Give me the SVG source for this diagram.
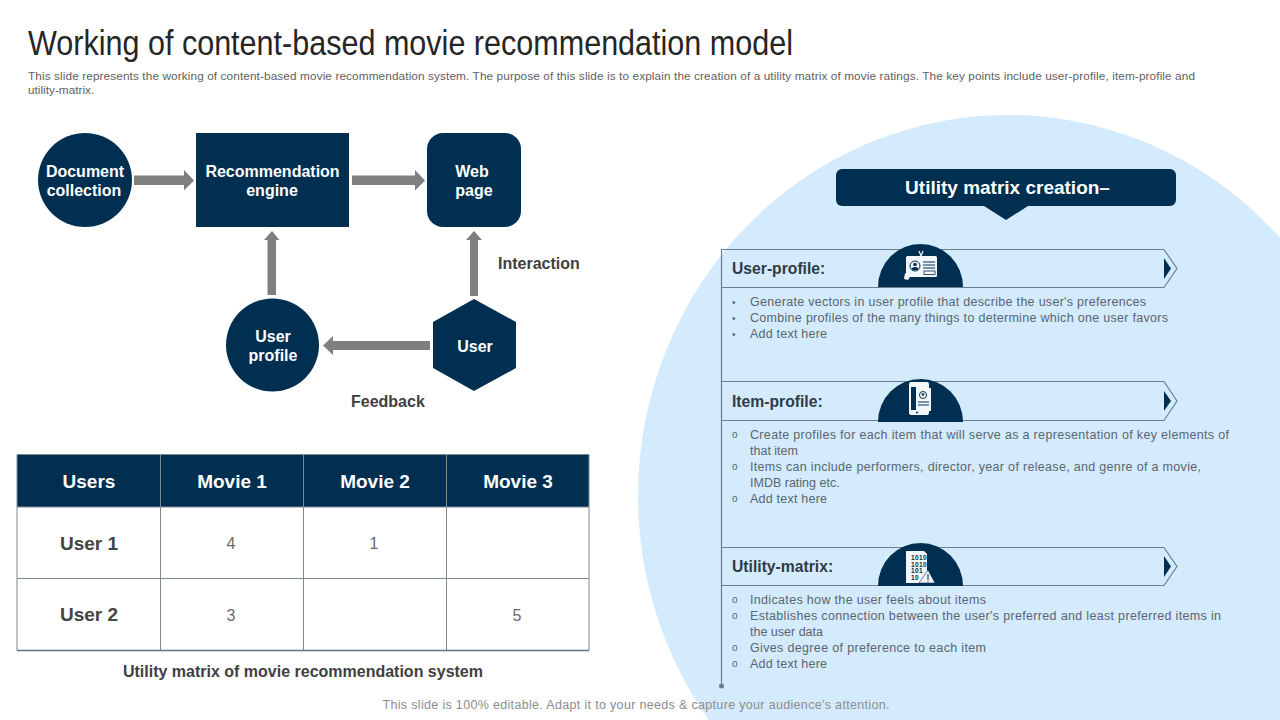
<svg xmlns="http://www.w3.org/2000/svg" width="1280" height="720" viewBox="0 0 1280 720">
<style>
text{font-family:"Liberation Sans",Arial,sans-serif}
.n{fill:#002f52}
.w{fill:#fff;font-weight:bold;font-size:16px;text-anchor:middle}
.lab{fill:#404040;font-weight:bold;font-size:16px}
.th{fill:#fff;font-weight:bold;font-size:19px;text-anchor:middle}
.rh{fill:#454545;font-weight:bold;font-size:19px;text-anchor:middle}
.num{fill:#6a6a6a;font-size:16px;text-anchor:middle}
.b{fill:#5a6570;font-size:12.5px}
.dot{fill:#5a6570;font-size:10px}
.head{fill:#2f3b45;font-weight:bold;font-size:15.7px}
.grid{stroke:#7f8a93;stroke-width:1;fill:none}
.tab{fill:none;stroke:#6d7f8d;stroke-width:1.2}
.ar{fill:#7f7f7f}
.ic{fill:#f4f7f9}
.icl{stroke:#002f52;stroke-width:1;fill:none}
.bit{fill:#002f52;font-size:6.5px;font-weight:bold;letter-spacing:.4px}
</style>
<rect width="1280" height="720" fill="#fff"/>
<ellipse cx="1008" cy="496" rx="370" ry="381" fill="#d3ebfd"/>
<text x="28" y="55" font-size="35.500" fill="#262626" textLength="765" lengthAdjust="spacingAndGlyphs">Working of content-based movie recommendation model</text>
<text x="28" y="80" font-size="11.800" fill="#5f5f5f" textLength="1167">This slide represents the working of content-based movie recommendation system. The purpose of this slide is to explain the creation of a utility matrix of movie ratings. The key points include user-profile, item-profile and</text>
<text x="28" y="94" font-size="11.800" fill="#5f5f5f">utility-matrix.</text>

<g id="connectors">
<path class="ar" d="M134 175.500H184V170L194 180.500 184 190.500V185H134Z"/>
<path class="ar" d="M352 175.500H415V170L425 180.500 415 190.500V185H352Z"/>
<path class="ar" d="M267.500 295V240H264L272 231 279.500 240H276V295Z"/>
<path class="ar" d="M470 296V240H466L474 231 482 240H478V296Z"/>
<path class="ar" d="M430 341V350H333V355L323 345.500 333 336V341Z"/>
</g>

<g id="node-document"><circle class="n" cx="85" cy="180" r="47"/><text class="w" x="85" y="177">Document</text><text class="w" x="84" y="196">collection</text></g>
<g id="node-engine"><rect class="n" x="196" y="133" width="153" height="94"/><text class="w" x="272.500" y="177">Recommendation</text><text class="w" x="272" y="196">engine</text></g>
<g id="node-web"><rect class="n" x="427" y="133" width="94" height="94" rx="16"/><text class="w" x="472" y="177">Web</text><text class="w" x="474" y="196">page</text></g>
<g id="node-profile"><circle class="n" cx="272.500" cy="345" r="46.500"/><text class="w" x="273" y="342">User</text><text class="w" x="273" y="361">profile</text></g>
<g id="node-user"><polygon class="n" points="474,299 516,322 516,368 474,391 433,368 433,322"/><text class="w" x="475" y="352">User</text></g>
<text class="lab" x="498" y="269">Interaction</text>
<text class="lab" x="351" y="407">Feedback</text>

<g id="matrix">
<rect class="n" x="17" y="454.500" width="572" height="52.500"/>
<path class="grid" d="M17 454.500H589M17 507H589M17 578.500H589M17 650.500H589M17 454.500V650.500M160.500 454.500V650.500M303.500 454.500V650.500M446.500 454.500V650.500M589 454.500V650.500"/>
<path stroke="#5f7485" stroke-width="1.500" d="M17 650.500H589"/>
<text class="th" x="89" y="488">Users</text><text class="th" x="232" y="488">Movie 1</text><text class="th" x="375" y="488">Movie 2</text><text class="th" x="518" y="488">Movie 3</text>
<text class="rh" x="89" y="550">User 1</text><text class="num" x="231" y="549">4</text><text class="num" x="374" y="549">1</text>
<text class="rh" x="89" y="621">User 2</text><text class="num" x="231" y="621">3</text><text class="num" x="517" y="621">5</text>
</g>
<text class="lab" x="303" y="677" text-anchor="middle" textLength="360">Utility matrix of movie recommendation system</text>

<g id="header"><rect class="n" x="836" y="169" width="340" height="37" rx="6"/><polygon class="n" points="984,206 1028,206 1006,220"/><text x="1007.500" y="194" fill="#fff" font-weight="bold" font-size="19" text-anchor="middle">Utility matrix creation–</text></g>

<path d="M721.500 249V686" stroke="#6d7f8d" stroke-width="1.200"/>
<circle cx="721.500" cy="686" r="2.500" fill="#6d7f8d"/>

<g id="user-profile">
<path class="tab" d="M721.500 249.500H1164L1177 268.500 1164 287.500H721.500"/>
<path class="n" d="M878 287A42.500 43 0 0 1 963 287Z"/>
<path class="n" d="M1164 258L1171 268.500 1164 279Z"/>
<text class="head" x="732" y="274">User-profile:</text>
<g><rect class="ic" x="906" y="256" width="31" height="21" rx="1.500"/><path d="M921 256l-2-5M921 256l2-5" stroke="#f4f7f9" stroke-width="1.200"/><circle cx="915" cy="266" r="5" fill="none" stroke="#002f52"/><circle cx="915" cy="264.500" r="1.800" fill="#002f52"/><path d="M911.500 270a3.500 3 0 0 1 7 0z" fill="#002f52"/><path class="icl" d="M923 262H935M923 265H935M923 268H935"/><rect x="924" y="271" width="11" height="3.500" fill="none" stroke="#002f52" stroke-width=".8"/><path class="ic" d="M905 273l5 4-2 3-4-1z"/></g>
<text class="dot" x="732" y="306">•</text><text class="b" x="750" y="306" textLength="396">Generate vectors in user profile that describe the user's preferences</text>
<text class="dot" x="732" y="322">•</text><text class="b" x="750" y="322" textLength="418">Combine profiles of the many things to determine which one user favors</text>
<text class="dot" x="732" y="338">•</text><text class="b" x="750" y="338" textLength="77">Add text here</text>
</g>

<g id="item-profile">
<path class="tab" d="M721.500 381.500H1164L1177 401 1164 420.500H721.500"/>
<path class="n" d="M878 422A42.500 43 0 0 1 963 422Z"/>
<path class="n" d="M1164 391L1171 401 1164 411Z"/>
<text class="head" x="732" y="407">Item-profile:</text>
<g><rect class="ic" x="909" y="382" width="20" height="33" rx="2"/><rect x="911" y="387" width="5" height="23" fill="#002f52"/><rect class="ic" x="916" y="388" width="15" height="23"/><circle cx="923" cy="395" r="3.500" fill="none" stroke="#002f52"/><circle cx="923" cy="394.500" r="1.300" fill="#002f52"/><path class="icl" d="M918 402H929M918 405H929"/><circle cx="917" cy="412.500" r="1" fill="#002f52"/></g>
<text class="dot" x="732" y="438">o</text><text class="b" x="750" y="439" textLength="479">Create profiles for each item that will serve as a representation of key elements of</text>
<text class="b" x="750" y="455">that item</text>
<text class="dot" x="732" y="470">o</text><text class="b" x="750" y="471" textLength="451">Items can include performers, director, year of release, and genre of a movie,</text>
<text class="b" x="750" y="487">IMDB rating etc.</text>
<text class="dot" x="732" y="502">o</text><text class="b" x="750" y="503" textLength="77">Add text here</text>
</g>

<g id="utility-matrix">
<path class="tab" d="M721.500 547.500H1164L1177 566.500 1164 585.500H721.500"/>
<path class="n" d="M878 586A42.500 43 0 0 1 963 586Z"/>
<path class="n" d="M1164 556L1171 566.500 1164 577Z"/>
<text class="head" x="732" y="572">Utility-matrix:</text>
<g><path class="ic" d="M906 551H924L927 554V583H906Z"/><text class="bit" x="911" y="560">1010</text><text class="bit" x="911" y="566.500">1010</text><text class="bit" x="911" y="573">101</text><text class="bit" x="911" y="579.500">10</text><path class="ic" d="M919 583L928 570 935 583Z" stroke="#002f52" stroke-width=".6"/><path d="M928 574V580M928 581V582" stroke="#002f52" stroke-width="1"/></g>
<text class="dot" x="732" y="603">o</text><text class="b" x="750" y="604" textLength="236">Indicates how the user feels about items</text>
<text class="dot" x="732" y="619">o</text><text class="b" x="750" y="620" textLength="471">Establishes connection between the user's preferred  and least preferred  items in</text>
<text class="b" x="750" y="636">the user data</text>
<text class="dot" x="732" y="651">o</text><text class="b" x="750" y="652" textLength="236">Gives degree of preference to each item</text>
<text class="dot" x="732" y="667">o</text><text class="b" x="750" y="668" textLength="77">Add text here</text>
</g>

<text x="636" y="709" font-size="12.500" fill="#8c8c8c" text-anchor="middle" textLength="507">This slide is 100% editable. Adapt it to your needs &amp; capture your audience's attention.</text>
</svg>
